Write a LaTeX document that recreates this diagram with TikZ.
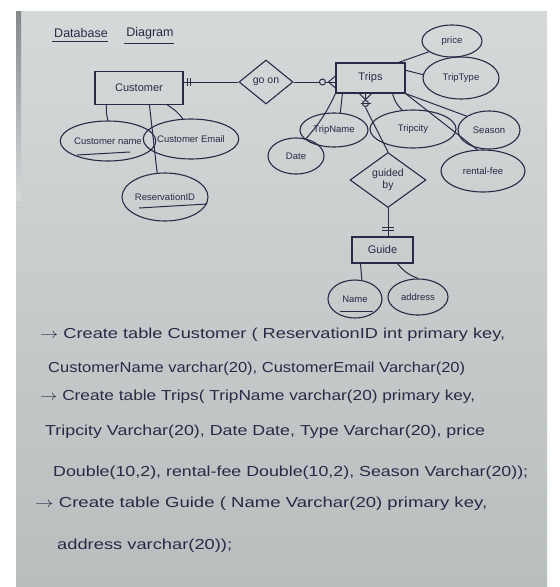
\documentclass[tikz,border=0pt]{standalone}
\usepackage{fontspec}
\setmainfont{Liberation Sans}
\usetikzlibrary{shapes.geometric,calc}
\definecolor{ink}{HTML}{272B45}
\definecolor{papertop}{HTML}{D6D9DA}
\definecolor{paperbot}{HTML}{B8BDBE}
\definecolor{edge}{HTML}{85898B}
\begin{document}
\begin{tikzpicture}[x=1pt,y=-1pt,
  ent/.style={draw=ink, line width=1.1pt, rectangle, inner sep=0pt, text=ink, font=\fontsize{11}{13}\selectfont},
  attr/.style={draw=ink, line width=1.1pt, ellipse, inner sep=0pt, text=ink, font=\fontsize{9.5}{11}\selectfont},
  rel/.style={draw=ink, line width=1.1pt, diamond, inner sep=0pt, text=ink, align=center, font=\fontsize{10.5}{12}\selectfont},
  conn/.style={draw=ink, line width=1pt},
  txtline/.style={anchor=base west, inner sep=0pt, text=ink},
  ttl/.style={inner sep=0pt, text=ink, font=\fontsize{12.5}{14}\selectfont}]
\useasboundingbox (0,0) rectangle (560,587);
\fill[white] (0,0) rectangle (560,587);
\shade[top color=papertop, bottom color=paperbot] (16,11) rectangle (547,587);
\shade[top color=edge, bottom color=papertop] (16,11) rectangle (21,200);

% title
\node[ttl] (t1) at (81,33) {Database};
\node[ttl] (t2) at (150,33) {Diagram};
\draw[conn] ($(t1.south west)+(-2,4)$) -- ($(t1.south east)+(0,4)$);
\draw[conn] ($(t2.south west)+(-2,4)$) -- ($(t2.south east)+(0,4)$);

% entities
\node[ent, minimum width=88pt, minimum height=33pt] (cust) at (139,88) {Customer};
\node[ent, minimum width=69pt, minimum height=30pt] (trips) at (370.5,78) {Trips};
\node[ent, minimum width=61pt, minimum height=26pt] (guide) at (382.5,250) {Guide};

% relationships
\node[rel, minimum width=54pt, minimum height=44pt] (goon) at (266,82) {go on};
\node[rel, minimum width=76pt, minimum height=55pt] (guided) at (388,180) {guided\\by};

% attributes
\node[attr, minimum width=60pt, minimum height=32pt] (price) at (452,41) {price};
\node[attr, minimum width=76pt, minimum height=42pt] (triptype) at (461,78) {TripType};
\node[attr, minimum width=62pt, minimum height=38pt] (season) at (489,130) {Season};
\node[attr, minimum width=84pt, minimum height=42pt] (rental) at (483,171) {rental-fee};
\node[attr, minimum width=86pt, minimum height=38pt] (tripcity) at (413,129) {Tripcity};
\node[attr, minimum width=68pt, minimum height=34pt] (tripname) at (334,130) {TripName};
\node[attr, minimum width=56pt, minimum height=36pt] (date) at (296,156) {Date};
\node[attr, minimum width=54pt, minimum height=38pt] (name) at (355,299) {Name};
\node[attr, minimum width=60pt, minimum height=36pt] (address) at (418,297) {address};
\node[attr, minimum width=80pt, minimum height=40pt] (custname) at (108,141) {Customer name};
\node[attr, minimum width=86pt, minimum height=40pt] (custemail) at (191,139) {Customer Email};
\node[attr, minimum width=86pt, minimum height=48pt] (resid) at (165,197) {ReservationID};

% key underlines
\draw[conn] ($(custname.center)+(-31,14)$) -- ($(custname.center)+(22,11)$);
\draw[conn] ($(resid.center)+(-26,11)$) -- ($(resid.center)+(42,7)$);
\draw[conn] ($(name.center)+(-15,12)$) -- ($(name.center)+(18,12)$);

% connectors: Customer
\draw[conn] (goon.west) -- (goon.west -| cust.east);
\draw[conn] ($(goon.west -| cust.east)+(4,-4)$) -- ++(0,8);
\draw[conn] ($(goon.west -| cust.east)+(7,-4)$) -- ++(0,8);
\draw[conn] ($(cust.south west)+(12,0)$) to[bend right=10] (custname.north);
\draw[conn] ($(cust.south west)+(55,0)$) -- (resid.108);
\draw[conn] ($(cust.south west)+(73,0)$) to[bend left=10] (custemail.112);

% go on -- Trips, zero or many
\coordinate (tl) at (goon.east -| trips.west);
\draw[conn] (goon.east) -- ($(tl)+(-16,0)$);
\draw[conn] ($(tl)+(-13,0)$) circle (3pt);
\draw[conn] ($(tl)+(-10,0)$) -- (tl);
\draw[conn] ($(tl)+(-7,0)$) -- ($(tl)+(0,-6)$);
\draw[conn] ($(tl)+(-7,0)$) -- ($(tl)+(0,6)$);

% Trips attributes
\draw[conn] ($(trips.north east)+(-7,0)$) -- (price.205);
\draw[conn] ($(trips.north east)!0.25!(trips.south east)$) -- (triptype.175);
\draw[conn] (trips.south east) -- (season.north west);
\draw[conn] (trips.south east) -- (rental.105);
\draw[conn] ($(trips.south east)+(-13,0)$) to[bend right=15] (tripcity.120);
\draw[conn] ($(trips.south west)+(7,0)$) -- (tripname.70);
\draw[conn] (trips.south west) to[bend left=8] (date.60);

% Trips -- guided by, zero or many
\coordinate (tb) at ($(trips.south)+(-5,0)$);
\draw[conn] ($(tb)+(0,14)$) -- (guided.north);
\draw[conn] ($(tb)+(0,10)$) circle (3pt);
\draw[conn] ($(tb)+(-5,10)$) -- ($(tb)+(5,10)$);
\draw[conn] ($(tb)+(0,7)$) -- (tb);
\draw[conn] ($(tb)+(0,6)$) -- ($(tb)+(-6,0)$);
\draw[conn] ($(tb)+(0,6)$) -- ($(tb)+(6,0)$);

% guided by -- Guide, one and only one
\coordinate (gt) at (guided.south |- guide.north);
\draw[conn] (guided.south) -- (gt);
\draw[conn] ($(gt)+(-6,-9)$) -- ++(12,0);
\draw[conn] ($(gt)+(-6,-6)$) -- ++(12,0);

% Guide attributes
\draw[conn] ($(guide.south west)+(9,0)$) -- (name.70);
\draw[conn] ($(guide.south west)+(46,0)$) to[bend right=15] (address.north);

% SQL text
\node[txtline] (l1) at (40,338) {\resizebox{465pt}{10.5pt}{$\rightarrow$ Create table Customer ( ReservationID int primary key,}};
\node[txtline] (l2) at (48,372) {\resizebox{417pt}{10.5pt}{CustomerName varchar(20), CustomerEmail Varchar(20)}};
\node[txtline] (l3) at (40,400) {\resizebox{435pt}{10.5pt}{$\rightarrow$ Create table Trips( TripName varchar(20) primary key,}};
\node[txtline] (l4) at (45,435) {\resizebox{440pt}{10.5pt}{Tripcity Varchar(20), Date Date, Type Varchar(20), price}};
\node[txtline] (l5) at (53,476) {\resizebox{475pt}{10.5pt}{Double(10,2), rental-fee Double(10,2), Season Varchar(20));}};
\node[txtline] (l6) at (35,507) {\resizebox{452pt}{10.5pt}{$\rightarrow$ Create table Guide ( Name Varchar(20) primary key,}};
\node[txtline] (l7) at (57,549) {\resizebox{175pt}{10.5pt}{address varchar(20));}};
\end{tikzpicture}
\end{document}
